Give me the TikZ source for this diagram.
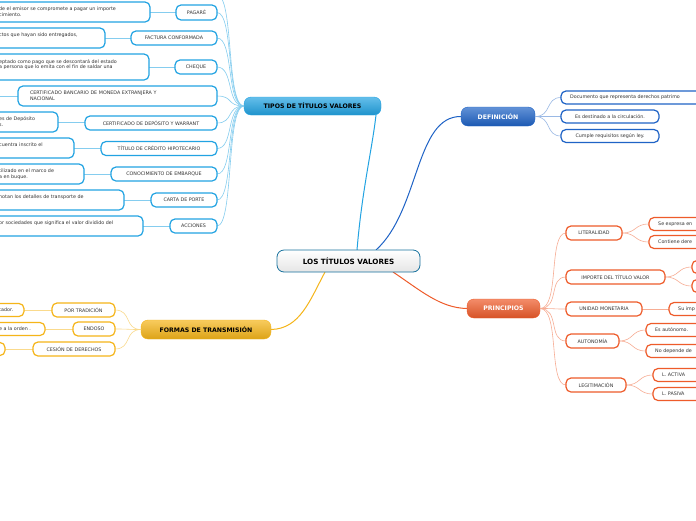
\documentclass[tikz,border=0pt]{standalone}
\usepackage{fontspec}
\setmainfont{DejaVu Sans}
\definecolor{cT}{HTML}{22A3E2}
\definecolor{cD}{HTML}{1F63C6}
\definecolor{cP}{HTML}{EE5B2A}
\definecolor{cF}{HTML}{F5B519}
\newcommand{\bx}[7]{\node[#7, minimum width={#3-#2}, minimum height=#5] (#1) at ({(#2+#3)/2},#4) {#6};}
% left-cut leaf: name, right x, cy, h, text, colour
\newcommand{\lf}[6]{\draw[leafbox, draw=#6] (-20,{#3-#4/2}) rectangle (#2,{#3+#4/2});
 \node[lt, anchor=west] at (-1,#3) {#5}; \coordinate (#1) at (#2,#3);}
% right-cut leaf: name, left x, cy, h, text, colour
\newcommand{\rf}[6]{\draw[leafbox, draw=#6] (#2,{#3-#4/2}) rectangle (760,{#3+#4/2});
 \node[lt, anchor=west] at ({#2+9},#3) {#5}; \coordinate (#1) at (#2,#3);}
\begin{document}
\begin{tikzpicture}[x=1pt,y=-1pt,
 leaf/.style={draw, rounded corners=5, line width=1.2pt, fill=white, inner sep=0pt, font=\fontsize{4.8}{5.9}\selectfont, align=left, text=black!80},
 leafbox/.style={rounded corners=5, line width=1.2pt, fill=white},
 lt/.style={inner sep=0pt, font=\fontsize{4.8}{5.9}\selectfont, align=left, text=black!80},
 main/.style={rounded corners=7, inner sep=0pt, font=\bfseries\fontsize{6.2}{7}\selectfont, text=white},
 lk/.style={line width=0.6pt}]
\fill[white] (0,0) rectangle (696,520);
\clip (0,0) rectangle (696,520);
% main connectors
\draw[cT,lk,line width=1pt] (357,250) .. controls (362,190) and (372,150) .. (376,115);
\draw[cD,lk,line width=1pt] (376,250) .. controls (420,210) and (415,116) .. (461,116.5);
\draw[cP,lk,line width=1pt] (393,272) .. controls (420,290) and (440,308) .. (467,308.5);
\draw[cF,lk,line width=1pt] (325,272) .. controls (310,300) and (300,329) .. (271,329.5);
% central
\node[draw=cT!70!black, line width=0.8pt, top color=white, bottom color=gray!20, rounded corners=7, minimum width=143, minimum height=22, font=\bfseries\fontsize{7.2}{8}\selectfont] (c) at (348.5,261) {LOS TÍTULOS VALORES};
\node[main, top color=cT!70, bottom color=cT!90!black, draw=cT, minimum width=137, minimum height=18, text=black] (T) at (312.5,106) {TIPOS DE TÍTULOS VALORES};
\node[main, top color=cD!70, bottom color=cD!90!black, draw=cD, minimum width=74, minimum height=19] (D) at (498,116.5) {DEFINICIÓN};
\node[main, top color=cP!70, bottom color=cP!90!black, draw=cP, minimum width=73, minimum height=19] (P) at (503.5,308.5) {PRINCIPIOS};
\node[main, top color=cF!70, bottom color=cF!90!black, draw=cF, minimum width=130, minimum height=19, text=black] (F) at (206,329.5) {FORMAS DE TRANSMISIÓN};
% tipos
\foreach \y in {-5,12.5,38,67,96,123,148.5,174,200,226}
  \draw[cT!55,lk] (244,106) .. controls (226,106) and (234,\y) .. (217,\y);
\foreach \y/\x in {12/150,38/105,67/149,96/0,122/58,148/74,174/84,200/124,226/143}
  \draw[cT!55,lk] (\x,\y) -- (180,\y);
\lf{l1}{150}{12}{20}{de el emisor se compromete a pagar un importe\\cimiento.}{cT}
\lf{l2}{105}{38}{20}{ctos que hayan sido entregados,\\~}{cT}
\lf{l3}{149}{67}{26}{eptado como pago que se descontará del estado\\a persona que lo emita con el fin de saldar una\\~}{cT}
\lf{l5}{58}{122}{20}{es de Depósito\\s.}{cT}
\lf{l6}{74}{148}{20}{cuentra inscrito el\\~}{cT}
\lf{l7}{84}{174}{20}{tilizado en el marco de\\a en buque.}{cT}
\lf{l8}{124}{200}{20}{notan los detalles de transporte de\\~}{cT}
\lf{l9}{143}{226}{20}{or sociedades que significa el valor dividido del\\~}{cT}
\begin{scope}[every node/.style={leaf, draw=cT}]
\bx{t1}{176}{217}{12.5}{15}{PAGARÉ}{}
\bx{t2}{131}{217}{38}{14}{FACTURA CONFORMADA}{}
\bx{t3}{175}{217}{67}{14}{CHEQUE}{}
\bx{t4}{18}{217}{96}{20}{\hspace*{12pt}CERTIFICADO BANCARIO DE MONEDA EXTRANJERA Y\\\hspace*{12pt}NACIONAL}{text width=199}
\bx{t5}{85}{217}{123}{14}{CERTIFICADO DE DEPÓSITO Y WARRANT}{}
\bx{t6}{101}{217}{148.5}{14}{TÍTULO DE CRÉDITO HIPOTECARIO}{}
\bx{t7}{111}{217}{174}{14}{CONOCIMIENTO DE EMBARQUE}{}
\bx{t8}{151}{217}{200}{14}{CARTA DE PORTE}{}
\bx{t9}{170}{217}{226}{14}{ACCIONES}{}
\end{scope}
% definicion
\foreach \y in {97.5,116.5,136}
  \draw[cD!45,lk] (535,116.5) .. controls (552,116.5) and (545,\y) .. (561,\y);
\rf{d1}{561}{97.5}{13}{Documento que representa derechos patrimo}{cD}
\begin{scope}[every node/.style={leaf, draw=cD}]
\bx{d2}{561}{659}{116.5}{13}{Es destinado a la circulación.}{}
\bx{d3}{561}{659}{136}{13}{Cumple requisitos según ley.}{}
\end{scope}
% principios
\foreach \y in {233,277,309,341,385}
  \draw[cP!50,lk] (540,308.5) .. controls (560,308.5) and (548,\y) .. (566,\y);
\foreach \a/\y/\x in {622/224/649,622/242/649,665/267/692,665/286/692,619/330/646,619/351/646,626/375/653,626/394/653}
  \draw[cP!50,lk] (\a,{(\y<300?(\y<260?233:277):(\y<360?341:385))}) .. controls ({\a+15},{(\y<300?(\y<260?233:277):(\y<360?341:385))}) and ({\x-15},\y) .. (\x,\y);
\draw[cP!50,lk] (642,309) -- (669,309);
\rf{p11}{649}{224}{13}{Se expresa en}{cP}
\rf{p12}{649}{242}{13}{Contiene dere}{cP}
\rf{p21}{692}{267}{13}{}{cP}
\rf{p22}{692}{286}{13}{}{cP}
\rf{p31}{669}{309}{13}{Su imp}{cP}
\rf{p41}{646}{330}{13}{Es autónomo.}{cP}
\rf{p42}{646}{351}{13}{No depende de}{cP}
\rf{p51}{653}{375}{13}{L. ACTIVA}{cP}
\rf{p52}{653}{394}{13}{L. PASIVA}{cP}
\begin{scope}[every node/.style={leaf, draw=cP}]
\bx{p1}{566}{622}{233}{14}{LITERALIDAD}{}
\bx{p2}{566}{665}{277}{14}{IMPORTE DEL TÍTULO VALOR}{}
\bx{p3}{566}{642}{309}{14}{UNIDAD MONETARIA}{}
\bx{p4}{566}{619}{341}{14}{AUTONOMÍA}{}
\bx{p5}{566}{626}{385}{14}{LEGITIMACIÓN}{}
\end{scope}
% formas
\foreach \y in {310,329,349}
  \draw[cF!50,lk] (141,329.5) .. controls (124,329.5) and (132,\y) .. (115,\y);
\draw[cF!50,lk] (24,310) -- (52,310);
\draw[cF!50,lk] (45,329) -- (73,329);
\draw[cF!50,lk] (5,349) -- (33,349);
\lf{f1l}{24}{310}{13}{tador.}{cF}
\lf{f2l}{45}{329}{13}{e a la orden .}{cF}
\lf{f3l}{5}{349}{13}{}{cF}
\begin{scope}[every node/.style={leaf, draw=cF}]
\bx{f1}{52}{115}{310}{14}{POR TRADICIÓN}{}
\bx{f2}{73}{115}{329}{14}{ENDOSO}{}
\bx{f3}{33}{115}{349}{14}{CESIÓN DE DERECHOS}{}
\end{scope}
\end{tikzpicture}
\end{document}
